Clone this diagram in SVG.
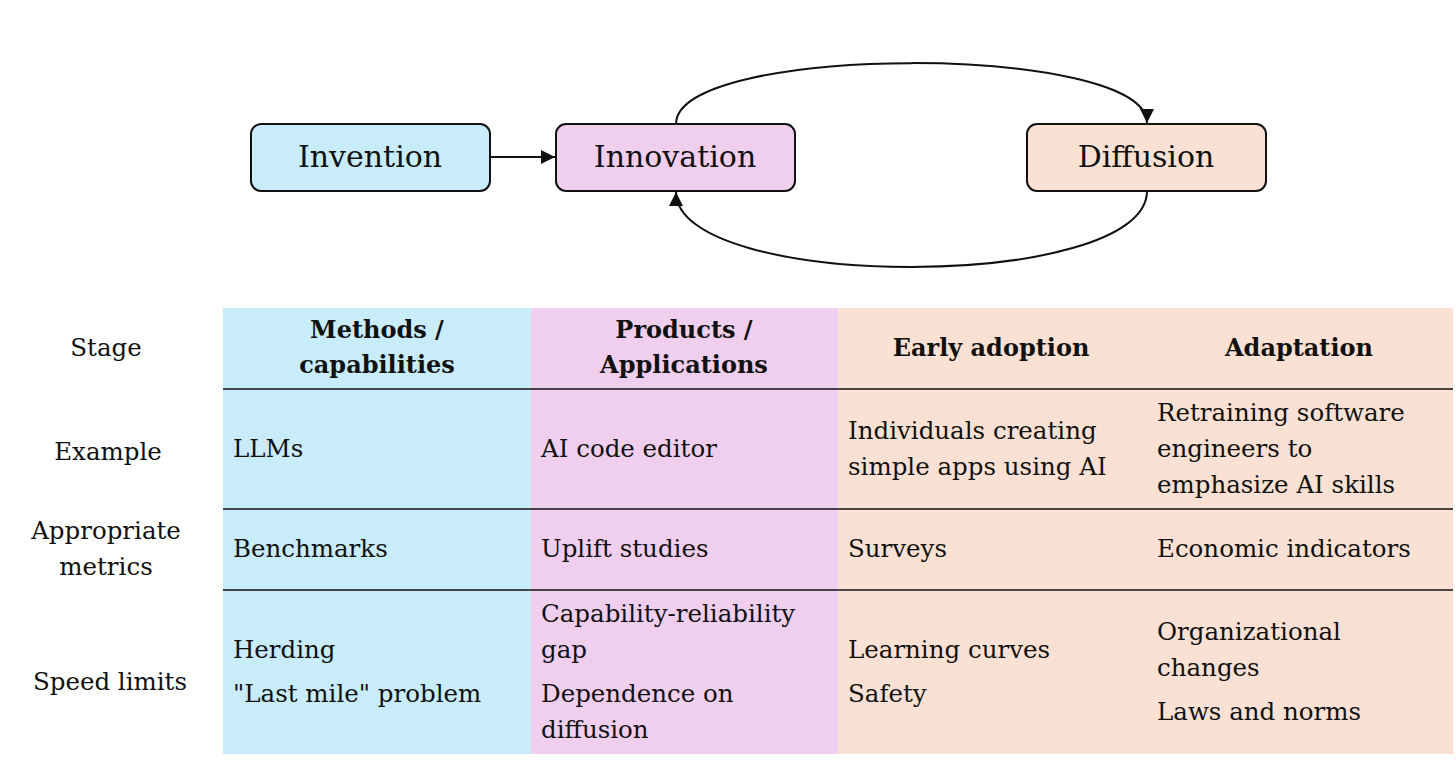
<svg xmlns="http://www.w3.org/2000/svg" width="1456" height="760" viewBox="0 0 1456 760">
<style>
text{font-family:"DejaVu Serif","Liberation Serif",serif;fill:#111}
.bx{stroke:#111;stroke-width:2}
.bl{font-size:30px;text-anchor:middle}
.t{font-size:24.5px}
.h{font-size:24px;font-weight:bold;text-anchor:middle}
.c{stroke:#111;stroke-width:2;fill:none}
.rl{stroke:#111;stroke-width:1.5}
</style>
<defs><marker id="a" viewBox="0 0 10 10" refX="10" refY="5" markerWidth="7" markerHeight="7" orient="auto"><path d="M0,0L10,5L0,10z" fill="#111"/></marker></defs>
<rect width="1456" height="760" fill="#fff"/>
<g id="invention"><rect class="bx" x="251" y="124" width="239" height="67" rx="10" fill="#c9ecfa"/><text class="bl" x="370" y="167">Invention</text></g>
<g id="innovation"><rect class="bx" x="556" y="124" width="239" height="67" rx="10" fill="#f0cfee"/><text class="bl" x="675" y="167">Innovation</text></g>
<g id="diffusion"><rect class="bx" x="1027" y="124" width="239" height="67" rx="10" fill="#fbe1d3"/><text class="bl" x="1146" y="167">Diffusion</text></g>
<g id="connectors">
<line class="c" x1="490" y1="157" x2="555" y2="157" marker-end="url(#a)"/>
<path class="c" d="M676,124C676,43 1147,43 1147,123" marker-end="url(#a)"/>
<path class="c" d="M1147,191C1147,292 676,292 676,192" marker-end="url(#a)"/>
</g>
<g id="table">
<rect x="223" y="308" width="308" height="446" fill="#c9ecfa"/>
<rect x="531" y="308" width="307" height="446" fill="#f0cfee"/>
<rect x="838" y="308" width="615" height="446" fill="#fbe1d3"/>
<line class="rl" x1="223" y1="389" x2="1453" y2="389"/>
<line class="rl" x1="223" y1="509" x2="1453" y2="509"/>
<line class="rl" x1="223" y1="590" x2="1453" y2="590"/>
<g class="t" text-anchor="middle">
<text x="106" y="356">Stage</text>
<text x="108" y="460">Example</text>
<text x="106" y="539">Appropriate</text><text x="106" y="575">metrics</text>
<text x="110" y="690">Speed limits</text>
</g>
<text class="h" x="377" y="338">Methods /</text><text class="h" x="377" y="373">capabilities</text>
<text class="h" x="684" y="338">Products /</text><text class="h" x="684" y="373">Applications</text>
<text class="h" x="991" y="356">Early adoption</text>
<text class="h" x="1299" y="356">Adaptation</text>
<text class="t" x="233" y="457">LLMs</text>
<text class="t" x="541" y="457">AI code editor</text>
<text class="t" x="848" y="439">Individuals creating</text><text class="t" x="848" y="475">simple apps using AI</text>
<text class="t" x="1157" y="421">Retraining software</text><text class="t" x="1157" y="457">engineers to</text><text class="t" x="1157" y="493">emphasize AI skills</text>
<text class="t" x="233" y="557">Benchmarks</text>
<text class="t" x="541" y="557">Uplift studies</text>
<text class="t" x="848" y="557">Surveys</text>
<text class="t" x="1157" y="557">Economic indicators</text>
<text class="t" x="233" y="658">Herding</text><text class="t" x="233" y="702">"Last mile" problem</text>
<text class="t" x="541" y="622">Capability-reliability</text><text class="t" x="541" y="658">gap</text><text class="t" x="541" y="702">Dependence on</text><text class="t" x="541" y="738">diffusion</text>
<text class="t" x="848" y="658">Learning curves</text><text class="t" x="848" y="702">Safety</text>
<text class="t" x="1157" y="640">Organizational</text><text class="t" x="1157" y="676">changes</text><text class="t" x="1157" y="720">Laws and norms</text>
</g>
</svg>
